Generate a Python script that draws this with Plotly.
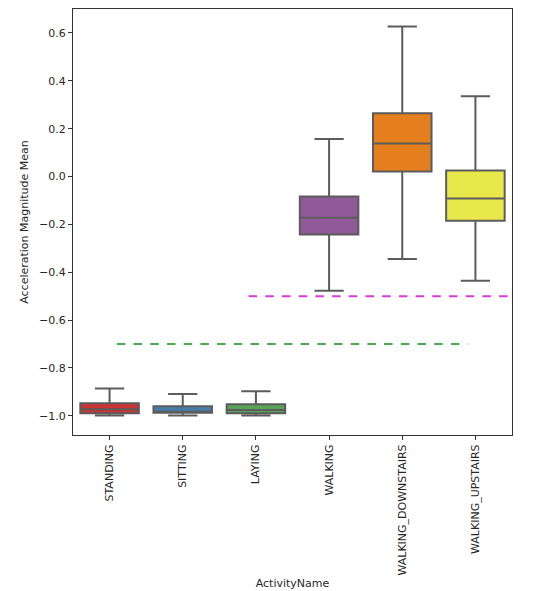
import plotly.graph_objects as go

categories = ["STANDING", "SITTING", "LAYING", "WALKING", "WALKING_DOWNSTAIRS", "WALKING_UPSTAIRS"]
lower_fence = [-0.998, -0.998, -0.998, -0.477, -0.345, -0.435]
q1 = [-0.989, -0.987, -0.989, -0.242, 0.021, -0.185]
median = [-0.972, -0.983, -0.976, -0.172, 0.138, -0.092]
q3 = [-0.947, -0.960, -0.952, -0.083, 0.264, 0.025]
upper_fence = [-0.886, -0.909, -0.897, 0.157, 0.627, 0.335]
box_colors = ["#cb3335", "#477ca8", "#59a257", "#905998", "#e57f1e", "#e9e84a"]

y_ticks = [-1.0, -0.8, -0.6, -0.4, -0.2, 0.0, 0.2, 0.4, 0.6]
hline_static = -0.7
hline_dynamic = -0.5

fig = go.Figure()
for i, cat in enumerate(categories):
    fig.add_trace(go.Box(
        x=[cat], q1=[q1[i]], median=[median[i]], q3=[q3[i]],
        lowerfence=[lower_fence[i]], upperfence=[upper_fence[i]],
        fillcolor=box_colors[i],
        line=dict(color="#5c5c5c", width=2),
        width=0.8, whiskerwidth=0.5, boxpoints=False,
        showlegend=False, hoverinfo="skip",
    ))

fig.add_shape(type="line", xref="x domain", yref="y", x0=0.1, x1=0.9,
              y0=hline_static, y1=hline_static,
              line=dict(color="#4caa4a", width=2, dash="8.5px,8.2px"))
fig.add_shape(type="line", xref="x domain", yref="y", x0=0.4, x1=1.0,
              y0=hline_dynamic, y1=hline_dynamic,
              line=dict(color="#d83cd8", width=2, dash="8.5px,8.2px"))

font = dict(family="DejaVu Sans", size=11, color="#262626")
fig.update_layout(
    width=559, height=591,
    margin=dict(l=65, r=55, t=1, b=164),
    paper_bgcolor="white", plot_bgcolor="white",
    boxmode="overlay",
    font=font,
    xaxis=dict(
        categoryorder="array", categoryarray=categories,
        range=[-0.5, 5.5], tickangle=-90,
        showline=True, linecolor="#333333", linewidth=1, mirror=True,
        ticks="outside", ticklen=4, tickcolor="#333333",
        showgrid=False, zeroline=False,
        title=dict(text="ActivityName", font=font, standoff=4),
    ),
    yaxis=dict(
        range=[-1.08, 0.70],
        tickvals=y_ticks, tickformat=".1f",
        showline=True, linecolor="#333333", linewidth=1, mirror=True,
        ticks="outside", ticklen=4, tickcolor="#333333",
        showgrid=False, zeroline=False,
        title=dict(text="Acceleration Magnitude Mean", font=font, standoff=8),
    ),
)

fig.write_html("out.html")
